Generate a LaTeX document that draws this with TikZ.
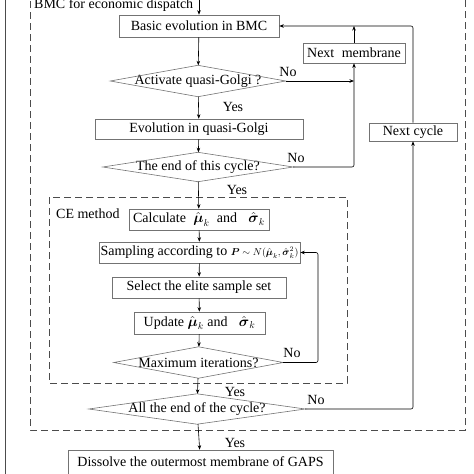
\documentclass[tikz,border=0pt]{standalone}
\usepackage{fontspec}
\setmainfont{Liberation Serif}
\usepackage{amsmath}
\usetikzlibrary{arrows.meta}

\begin{document}
\begin{tikzpicture}[x=1pt, y=-1pt, >={Stealth[length=4.5pt,width=3.5pt]}, font=\fontsize{14}{16}\selectfont]
            \tikzstyle{block}=[draw=black!55, rectangle, inner sep=0pt, line width=0.6pt]
            \tikzstyle{decision}=[rectangle, inner sep=0pt]
            \tikzstyle{frame}=[draw=black!70, dash pattern=on 7pt off 4pt, line width=0.9pt]
            \tikzstyle{link}=[->, line width=0.6pt, rounded corners=2pt]
            \tikzstyle{word}=[inner sep=0pt]

            \useasboundingbox (0,0) rectangle (474,474);
            \clip (0,0) rectangle (474,474);

            % frames
            \draw[line width=0.8pt, black!70] (5,-5) -- (5,480);
            \draw[frame] (30,-10) rectangle (465,430);
            \draw[frame] (49,197) rectangle (347,383);
            \node[word, anchor=west] (T_1) at (34,5) {BMC for economic dispatch};
            \node[word, anchor=west] (T_2) at (56,214) {CE method};

            % main column
            \node[block, minimum width=160, minimum height=22] (B_1) at (199,26) {Basic evolution in BMC};
            \node[decision, minimum width=175, minimum height=31] (D_1) at (198,81) {Activate quasi-Golgi ?};
            \node[block, minimum width=208, minimum height=20] (B_2) at (199,129) {Evolution in quasi-Golgi};
            \node[decision, minimum width=190, minimum height=29] (D_2) at (198,167) {The end of this cycle?};
            \node[block, minimum width=140, minimum height=21] (B_3) at (199,219.5) {Calculate \;$\hat{\boldsymbol\mu}_k$\; and \;\;$\hat{\boldsymbol\sigma}_k$};
            \node[block, minimum width=201, minimum height=21] (B_4) at (199.5,252.5) {Sampling according to {\fontsize{10}{12}\selectfont$\boldsymbol{P}\sim N(\hat{\boldsymbol\mu}_k,\hat{\boldsymbol\sigma}_k^{2})$}};
            \node[block, minimum width=174, minimum height=21] (B_5) at (199,287.5) {Select the elite sample set};
            \node[block, minimum width=131, minimum height=22] (B_6) at (199.5,323) {Update $\hat{\boldsymbol\mu}_k$ and \;\;$\hat{\boldsymbol\sigma}_k$};
            \node[decision, minimum width=169, minimum height=31] (D_3) at (198.5,362.5) {Maximum iterations?};
            \node[decision, minimum width=216, minimum height=30] (D_4) at (197,409) {All the end of the cycle?};
            \node[block, minimum width=265, minimum height=24] (B_7) at (200.5,462) {Dissolve the outermost membrane of GAPS};

            % right column
            \node[block, minimum width=102, minimum height=20] (N_1) at (354,53) {Next\; membrane};
            \node[block, minimum width=88, minimum height=18] (N_2) at (413,132) {Next cycle};

            % diamond outlines
            \foreach \d in {D_1,D_2,D_3,D_4}
                \draw[black!55, line width=0.6pt] (\d.west) -- (\d.north) -- (\d.east) -- (\d.south) -- cycle;

            % labels
            \node[word] (Y_1) at (233,107) {Yes};
            \node[word] (Y_2) at (237,190) {Yes};
            \node[word] (Y_3) at (235,392) {Yes};
            \node[word] (Y_4) at (235,443) {Yes};
            \node[word] (O_1) at (288,72) {No};
            \node[word] (O_2) at (296,158) {No};
            \node[word] (O_3) at (292,353) {No};
            \node[word] (O_4) at (316,400) {No};

            % connectors
            \coordinate (C_0) at (199,-5);
            \coordinate (C_1) at (354,81);
            \coordinate (C_2) at (318,300);
            \draw[link] (C_0) -- (B_1);
            \draw[link] (B_1) -- (D_1);
            \draw[link] (D_1) -- (B_2);
            \draw[link] (B_2) -- (D_2);
            \draw[link] (D_2) -- (B_3);
            \draw[link] (B_3) -- (B_4);
            \draw[link] (B_4) -- (B_5);
            \draw[link] (B_5) -- (B_6);
            \draw[link] (B_6) -- (D_3);
            \draw[link] (D_3) -- (D_4);
            \draw[link] (D_4) -- (B_7);
            \draw[link] (D_1.east) -- (C_1);
            \draw[link] (D_2.east) -| (N_1.south);
            \draw[link] (N_1.north) -- (N_1.north |- B_1.east);
            \draw[link] (N_2.north) |- (B_1.east);
            \draw[link] (D_4.east) -| (N_2.south);
            \draw[link] (D_3.east) -| (C_2) |- (B_4.east);
        \end{tikzpicture}
\end{document}
